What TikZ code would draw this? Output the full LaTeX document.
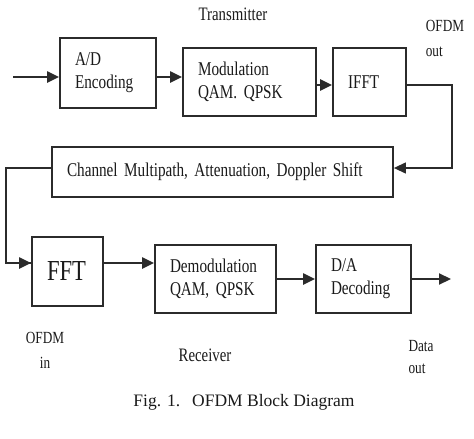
\documentclass[tikz,border=0pt]{standalone}
\usepackage{fontspec}
\setmainfont[FakeStretch=0.78]{Liberation Serif}
\newfontfamily\capfont{Liberation Serif}
\usepackage{xcolor}
\usetikzlibrary{arrows.meta, positioning, calc}

\begin{document}
\begin{tikzpicture}[x=1pt, y=-1pt,
    blk/.style={draw=cline, line width=1.8pt, inner xsep=15pt, inner ysep=0pt,
        align=left, text=ctext, font=\fontsize{19.5}{23}\selectfont},
    arr/.style={draw=cline, line width=2.2pt, -{Triangle[length=12pt,width=11pt]}},
    wire/.style={draw=cline, line width=1.3pt},
    lbl/.style={text=ctext, font=\fontsize{19}{23}\selectfont}]

    % Colors
    \definecolor{cline}{HTML}{2B2B2B}
    \definecolor{ctext}{HTML}{1A1A1A}

    % Page frame
    \fill[white] (0,0) rectangle (474,439);
    \useasboundingbox (0,0) rectangle (474,439);

    % Transmitter chain
    \node[blk, text width=66pt, minimum height=70pt] (ad) at (108,73) {A/D\\Encoding};
    \node[blk, text width=103pt, minimum height=68pt] (mod) at (249.5,82) {Modulation\\QAM. QPSK};
    \node[blk, text width=43pt, minimum height=68pt] (ifft) at (369.5,82) {IFFT};

    % Channel
    \node[blk, text width=311pt, minimum height=50pt] (chan) at (222.5,172)
        {Channel Multipath, Attenuation, Doppler Shift};

    % Receiver chain
    \node[blk, text width=41pt, minimum height=69pt, font=\fontsize{29}{31}\selectfont] (fft) at (67.5,271.5) {FFT};
    \node[blk, text width=91pt, minimum height=68pt] (demod) at (215.5,279) {Demodulation\\QAM, QPSK};
    \node[blk, text width=65pt, minimum height=68pt] (da) at (363.5,279) {D/A\\Decoding};

    % Free ends
    \coordinate (in) at (13,77);
    \coordinate (out) at (451,279);

    % Connectors
    \draw[arr] (in) -- (in -| ad.west);
    \draw[arr] ([yshift=-4pt]ad.east) -- ([yshift=-4pt]ad.east -| mod.west);
    \draw[arr] ([yshift=-3pt]mod.east) -- ([yshift=-3pt]mod.east -| ifft.west);
    \draw[wire, -{Triangle[length=12pt,width=11pt]}] ([yshift=-3pt]ifft.east) -- ++(45,0) |- ([yshift=4pt]chan.east);
    \draw[wire] ([yshift=4pt]chan.west) -- (6,168) |- ([yshift=8.5pt]fft.west);
    \draw[arr] ([xshift=-2pt,yshift=8.5pt]fft.west) -- ([yshift=8.5pt]fft.west);
    \draw[arr] ([yshift=8.5pt]fft.east) -- ([yshift=8.5pt]fft.east -| demod.west);
    \draw[arr] (demod.east) -- (da.west);
    \draw[arr] (da.east) -- (out);

    % Labels
    \node[lbl] (tx) at (233,14) {Transmitter};
    \node[lbl, align=left, font=\fontsize{17}{25}\selectfont] (ofdmout) at (445,38) {OFDM\\out};
    \node[lbl, align=center, font=\fontsize{17}{25}\selectfont] (ofdmin) at (45,350) {OFDM\\in};
    \node[lbl] (rx) at (205,355) {Receiver};
    \node[lbl, align=left, anchor=west, font=\fontsize{17}{22}\selectfont] (dataout) at (405,357) {Data\\out};

    % Caption
    \node[text=ctext, font=\capfont\fontsize{17.5}{20}\selectfont] (cap) at (244,402)
        {Fig. 1.\hspace{12pt}OFDM Block Diagram};
\end{tikzpicture}
\end{document}
